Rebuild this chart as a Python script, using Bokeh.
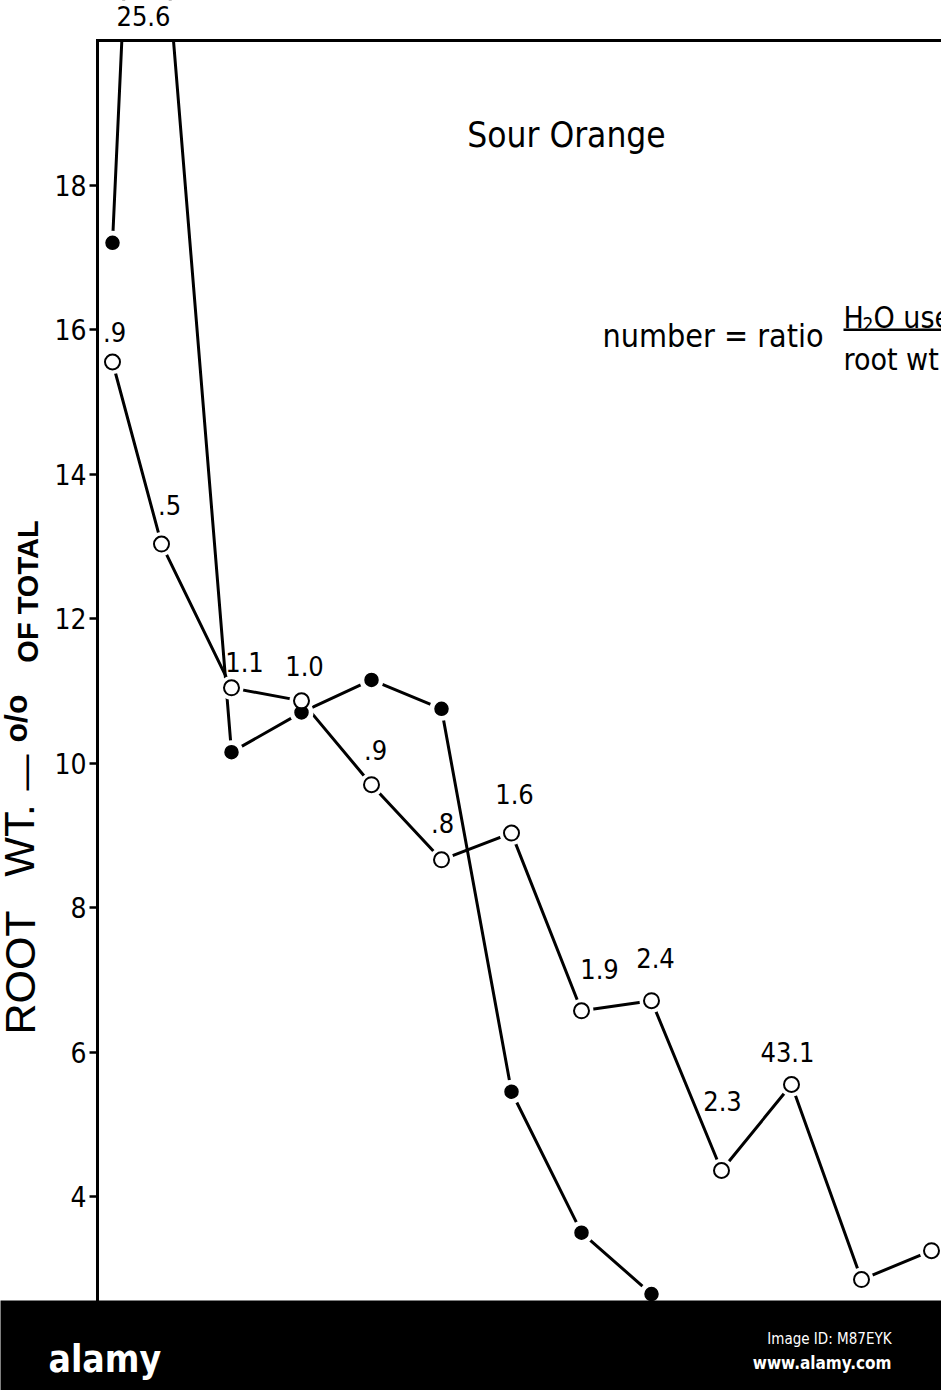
import math
from bokeh.plotting import figure
from bokeh.models import Range1d, FixedTicker, Label, ColumnDataSource, BoxAnnotation
from bokeh.embed import file_html
from bokeh.resources import INLINE
from bokeh.core.properties import value

# ---------------- data ----------------
open_x = [0.3, 1.0, 2, 3, 4, 5, 6, 7, 8, 9, 10, 11, 12]
open_y = [15.55, 13.03, 11.04, 10.86, 9.70, 8.66, 9.03, 6.57, 6.71, 4.36, 5.55, 2.85, 3.25]
open_labels = [".9", ".5", "1.1", "1.0", ".9", ".8", "1.6", "1.9", "2.4", "2.3", "43.1", "", ""]
filled_x = [0.3, 0.7, 2, 3, 4, 5, 6, 7, 8]
filled_y = [17.2, 25.6, 10.15, 10.70, 11.15, 10.75, 5.45, 3.50, 2.65]
peak_label = "25.6"
y_ticks = [4, 6, 8, 10, 12, 14, 16, 18]
y_top = 20.0
y_cut = 2.56

# label offsets (screen px) for the ratio numbers next to the open circles
label_dx = [2, 8, 13, 3, 4, 1, 3, 18, 4, 1, -4, 0, 0]
label_dy = [-30, -39, -26, -35, -35, -37, -39, -42, -43, -69, -33, 0, 0]

NARROW = "DejaVu Sans Condensed, Roboto"
SANS = "Liberation Sans"

W, H = 941, 1390


# page pixel -> data coordinate (the frame fills the whole page)
def X(px):
    return 2 + (px - 231) / 70.0


def Y(py):
    return y_top - (py - 40) / 72.25


p = figure(width=W, height=H, output_backend="svg", toolbar_location=None,
           x_range=Range1d(X(0), X(W)), y_range=Range1d(Y(H), Y(0)), x_axis_type=None,
           min_border_left=0, min_border_right=0, min_border_top=0, min_border_bottom=0)
p.outline_line_color = None
p.grid.visible = False
p.background_fill_color = "white"
p.border_fill_color = "white"

ax = p.yaxis[0]
ax.fixed_location = X(97)
ax.bounds = (y_cut - 1, y_top)
ax.ticker = FixedTicker(ticks=y_ticks)
ax.axis_line_width = 3
ax.axis_line_color = "black"
ax.major_tick_out = 8
ax.major_tick_in = 0
ax.major_tick_line_width = 2.5
ax.minor_tick_line_color = None
ax.major_label_text_font = NARROW
ax.major_label_text_font_size = "28px"
ax.major_label_text_color = "black"
ax.major_label_standoff = 3

src_open = ColumnDataSource(dict(x=open_x, y=open_y, label=open_labels, dx=label_dx, dy=label_dy))
src_filled = ColumnDataSource(dict(x=filled_x, y=filled_y))

p.line("x", "y", source=src_filled, line_color="black", line_width=3)
p.line("x", "y", source=src_open, line_color="black", line_width=3)
# white halos leave the small gaps between lines and markers
p.scatter("x", "y", source=src_filled, size=24, fill_color="white", line_color=None)
p.scatter("x", "y", source=src_open, size=24, fill_color="white", line_color=None)
p.scatter("x", "y", source=src_filled, size=13, fill_color="black", line_color="black", line_width=1.5)
p.scatter("x", "y", source=src_open, size=15, fill_color="white", line_color="black", line_width=2)

p.text("x", "y", text="label", source=src_open, x_offset="dx", y_offset="dy",
       text_align="center", text_baseline="middle", text_font=value(NARROW),
       text_font_size="27px", text_color="black")

# everything above the top border is blank paper (the peak goes off the chart)
p.add_layout(BoxAnnotation(left=X(99), right=X(W + 5), bottom=y_top, top=Y(-5),
                           fill_color="white", fill_alpha=1, line_color=None))
p.add_layout(BoxAnnotation(left=X(95.5), right=X(W + 5), bottom=Y(41.5), top=Y(38.5),
                           fill_color="black", fill_alpha=1, line_color=None))
p.add_layout(Label(x=filled_x[1], y=Y(15), text=peak_label, text_align="center",
                   text_baseline="middle", text_font=NARROW, text_font_size="27px",
                   text_color="black", x_offset=3))


# titles / notes
def lab(txt, px, py, size, align="left", font=NARROW, style="normal", color="black",
        baseline="alphabetic", angle=0):
    p.add_layout(Label(x=X(px), y=Y(py), text=txt, text_align=align, text_baseline=baseline,
                       text_font=font, text_font_size=size, text_font_style=style,
                       text_color=color, angle=angle))


lab("Sour Orange", 566, 134, "35px", align="center")
lab("number = ratio", 602, 335, "32px")
lab("H", 843, 317, "30px")
lab("2", 862, 323, "19px")
lab("O used", 873, 317, "30px")
p.add_layout(BoxAnnotation(left=X(843), right=X(W + 5), top=Y(328), bottom=Y(330.5),
                           fill_color="black", fill_alpha=1, line_color=None))
lab("root wt.", 843, 359, "30px")

# vertical axis title
V = math.pi / 2
lab("ROOT", 19, 972, "43px", align="center", font=SANS, baseline="middle", angle=V)
lab("WT.", 19, 840, "42px", align="center", font=SANS, baseline="middle", angle=V)
lab("\u2014", 24, 772, "36px", align="center", font=SANS, baseline="middle", angle=V)
lab("o/o", 15, 718, "32px", align="center", font=SANS, style="bold", baseline="middle", angle=V)
lab("OF TOTAL", 27, 591, "29px", align="center", font=SANS, style="bold", baseline="middle",
    angle=V)

# ---------------- banner ----------------
p.add_layout(BoxAnnotation(left=X(-5), right=X(W + 5), top=Y(1300), bottom=Y(H + 5),
                           fill_color="black", fill_alpha=1, line_color=None))
lab("alamy", 48, 1359, "37px", style="bold", color="white")
lab("Image ID: M87EYK", 891, 1338, "15px", align="right", color="white")
lab("www.alamy.com", 891, 1362, "17px", align="right", style="bold", color="white")

open("out.html", "w").write(file_html(p, INLINE))
